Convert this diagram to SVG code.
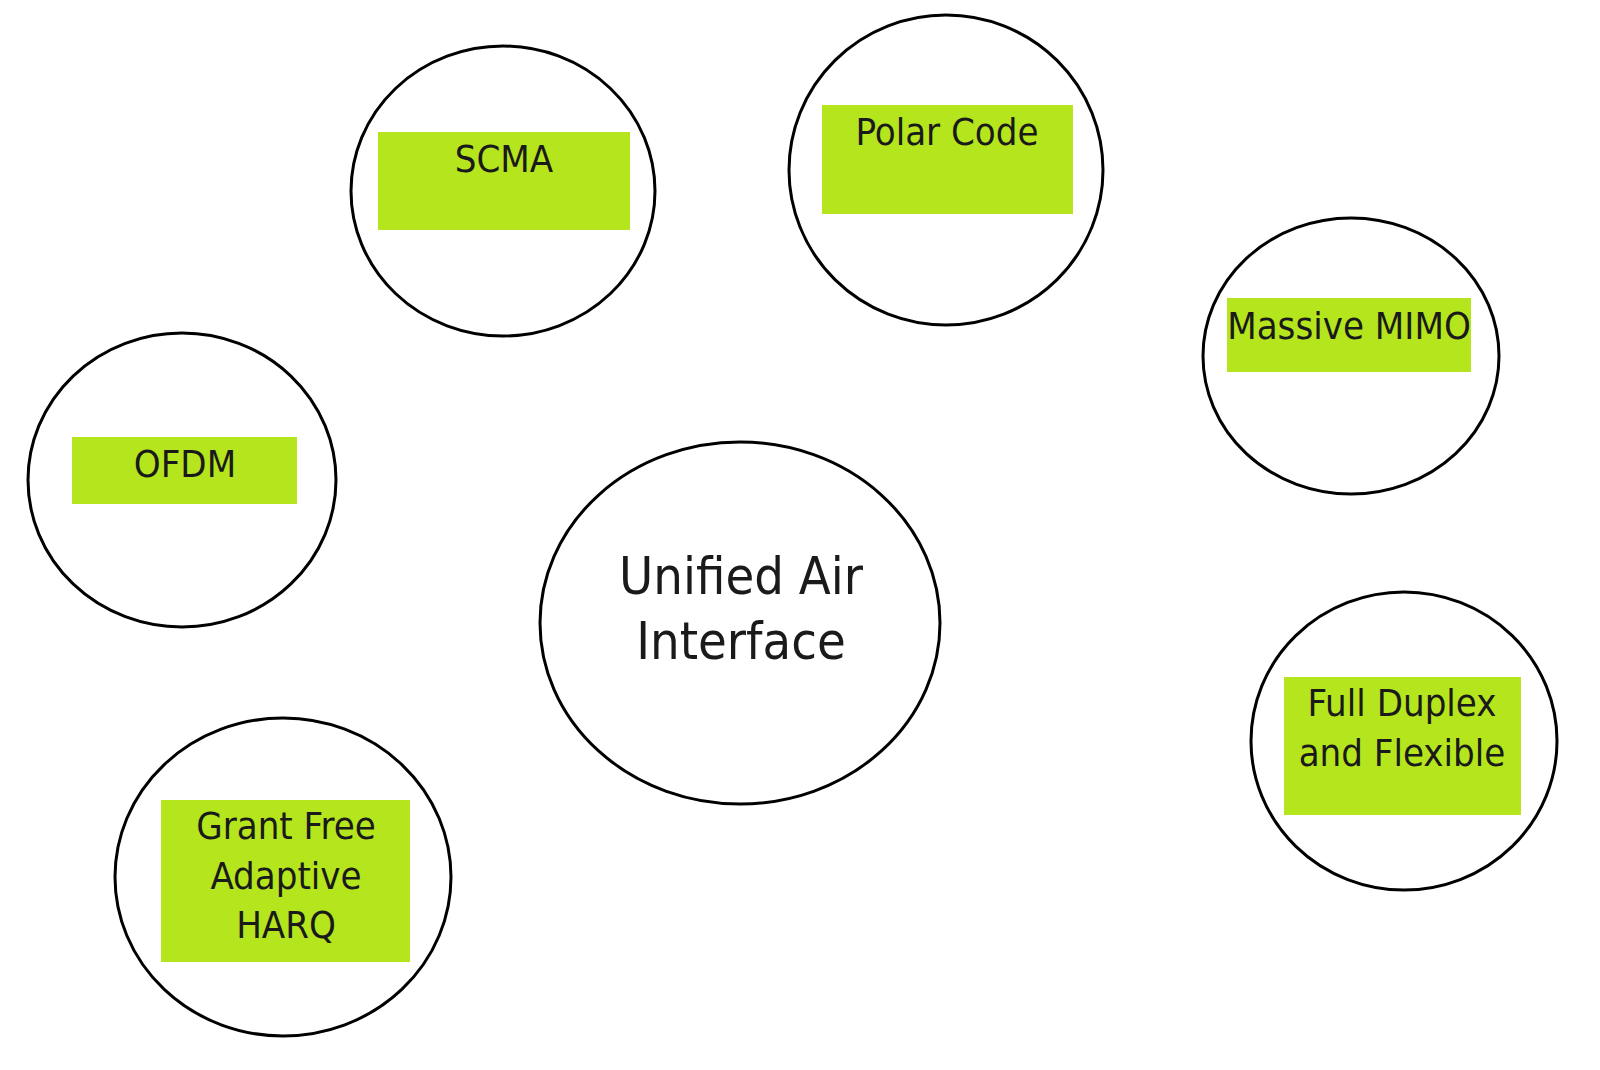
<svg xmlns="http://www.w3.org/2000/svg" width="1600" height="1070" viewBox="0 0 1600 1070">
<style>
.c{fill:#fff;stroke:#000;stroke-width:3}
.b{fill:#b5e61d}
text{font-family:"Liberation Sans Narrow","DejaVu Sans Condensed","Liberation Sans",sans-serif;font-stretch:condensed;fill:#1a1a1a;text-anchor:middle;font-size:38px}
.big{font-size:52px}
</style>
<rect width="1600" height="1070" fill="#fff"/>
<g id="connectors"/>
<g id="scma"><ellipse class="c" cx="503" cy="191" rx="152" ry="145"/><rect class="b" x="378" y="132" width="252" height="98"/><text x="504" y="172">SCMA</text></g>
<g id="polar"><ellipse class="c" cx="946" cy="170" rx="157" ry="155"/><rect class="b" x="822" y="105" width="251" height="109"/><text x="947" y="145">Polar Code</text></g>
<g id="mimo"><ellipse class="c" cx="1351" cy="356" rx="148" ry="138"/><rect class="b" x="1227" y="298" width="244" height="74"/><text x="1349" y="339">Massive MIMO</text></g>
<g id="ofdm"><ellipse class="c" cx="182" cy="480" rx="154" ry="147"/><rect class="b" x="72" y="437" width="225" height="67"/><text x="185" y="477">OFDM</text></g>
<g id="uai"><ellipse class="c" cx="740" cy="623" rx="200" ry="181"/><text class="big" x="741" y="594">Unified Air</text><text class="big" x="741" y="659">Interface</text></g>
<g id="harq"><ellipse class="c" cx="283" cy="877" rx="168" ry="159"/><rect class="b" x="161" y="800" width="249" height="162"/><text x="286" y="839">Grant Free</text><text x="286" y="889">Adaptive</text><text x="286" y="938">HARQ</text></g>
<g id="duplex"><ellipse class="c" cx="1404" cy="741" rx="153" ry="149"/><rect class="b" x="1284" y="677" width="237" height="138"/><text x="1402" y="716">Full Duplex</text><text x="1402" y="766">and Flexible</text></g>
</svg>
